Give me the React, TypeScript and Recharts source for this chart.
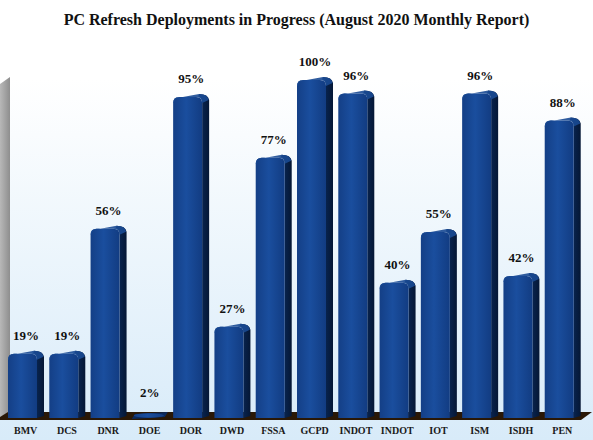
import React from 'react';
import { BarChart, Bar, XAxis, YAxis, LabelList } from 'recharts';

const categories = ['BMV', 'DCS', 'DNR', 'DOE', 'DOR', 'DWD', 'FSSA', 'GCPD', 'INDOT', 'INDOT', 'IOT', 'ISM', 'ISDH', 'PEN'];
const percents = [19, 19, 56, 2, 95, 27, 77, 100, 96, 40, 55, 96, 42, 88];
const title = 'PC Refresh Deployments in Progress (August 2020 Monthly Report)';

const data = categories.map((name, i) => ({ name, value: percents[i] }));

const SERIF = '"Liberation Serif", "DejaVu Serif", serif';

function Bar3D(props: any) {
  const { x, y, width, height } = props;
  if (width == null || height == null) return null;
  const side = 7;
  const fw = width - side;
  const bottom = y + height;
  const r = Math.min(6, Math.max(1, height / 2), fw / 2);
  const lift = 3;
  const top = y;
  if (height < 8) {
    const cx = x + width / 2;
    const disk = `M${x},${bottom + 1} L${x + 3},${bottom - 4} L${x + width},${bottom - 6} L${x + width - 3},${bottom - 1} Z`;
    return (
      <g>
        <path d={disk} fill="#0b2a5e" />
        <ellipse cx={cx - 1} cy={bottom - 2.5} rx={width / 2 - 3} ry={2.2} fill="url(#frontGrad)" />
      </g>
    );
  }
  const front = `M${x},${bottom} L${x},${top + r} Q${x},${top} ${x + r},${top} L${x + fw - r},${top} Q${x + fw},${top} ${x + fw},${top + r} L${x + fw},${bottom} Z`;
  const sidePath = `M${x + fw},${bottom} L${x + fw},${top + r} Q${x + fw},${top} ${x + fw - r + 2},${top - 0.5} L${x + fw - r + 3},${top - lift} Q${x + width - 1},${top - lift} ${x + width},${top + r - lift} L${x + width},${bottom - 2} Z`;
  const topCap = `M${x + 1},${top + r} Q${x + 1},${top + 0.5} ${x + r + 1},${top + 0.5} L${x + fw - r + 3},${top - lift} Q${x + width - 1},${top - lift} ${x + width - 0.5},${top + r - lift} L${x + fw},${top + r} Q${x + fw},${top} ${x + fw - r},${top} L${x + r},${top} Q${x},${top} ${x},${top + r} Z`;
  return (
    <g>
      <path d={sidePath} fill="url(#sideGrad)" />
      <path d={front} fill="url(#frontGrad)" />
      <path d={topCap} fill="#1a4a94" opacity={0.9} />
    </g>
  );
}

export default function App() {
  return (
    <div
      style={{
        position: 'absolute',
        left: 0,
        top: 0,
        width: 593,
        height: 440,
        background: 'linear-gradient(to bottom, #ffffff 0%, #ffffff 18%, #d8ebf9 100%)',
        overflow: 'hidden',
      }}
    >
      <svg width={593} height={440} style={{ position: 'absolute', left: 0, top: 0 }}>
        <defs>
          <linearGradient id="wallGrad" x1="0" y1="0" x2="1" y2="0">
            <stop offset="0%" stopColor="#b8b8b8" />
            <stop offset="100%" stopColor="#8e8e8e" />
          </linearGradient>
        </defs>
        <polygon points="0,84 10,77 10,413 0,419" fill="url(#wallGrad)" />
        <polygon points="0,417 8,412 592,412 581,420 0,420" fill="#2a1806" />
      </svg>
      <div
        style={{
          position: 'absolute',
          left: 0,
          top: 11,
          width: 593,
          textAlign: 'center',
          fontFamily: SERIF,
          fontWeight: 'bold',
          fontSize: 16,
          color: '#111',
        }}
      >
        {title}
      </div>
      <div style={{ position: 'absolute', left: 0, top: 0 }}>
        <BarChart
          width={593}
          height={440}
          data={data}
          margin={{ top: 80, right: 10, bottom: 0, left: 5 }}
        >
          <defs>
            <linearGradient id="frontGrad" x1="0" y1="0" x2="1" y2="0">
              <stop offset="0%" stopColor="#143f86" />
              <stop offset="45%" stopColor="#1a4e9e" />
              <stop offset="100%" stopColor="#123c82" />
            </linearGradient>
            <linearGradient id="sideGrad" x1="0" y1="0" x2="1" y2="0">
              <stop offset="0%" stopColor="#0a2a5c" />
              <stop offset="100%" stopColor="#051735" />
            </linearGradient>
          </defs>
          <XAxis
            dataKey="name"
            allowDuplicatedCategory
            axisLine={false}
            tickLine={false}
            height={22}
            interval={0}
            tick={{ fontFamily: SERIF, fontWeight: 'bold', fontSize: 10, fill: '#1a1a1a' }}
            tickMargin={3}
          />
          <YAxis hide domain={[0, 100]} />
          <Bar dataKey="value" isAnimationActive={false} shape={<Bar3D />} barSize={36}>
            <LabelList
              dataKey="value"
              position="top"
              offset={14}
              formatter={(v: any) => `${v}%`}
              style={{ fontFamily: SERIF, fontSize: 13, fill: '#111', fontWeight: 'bold' }}
            />
          </Bar>
        </BarChart>
      </div>
    </div>
  );
}
